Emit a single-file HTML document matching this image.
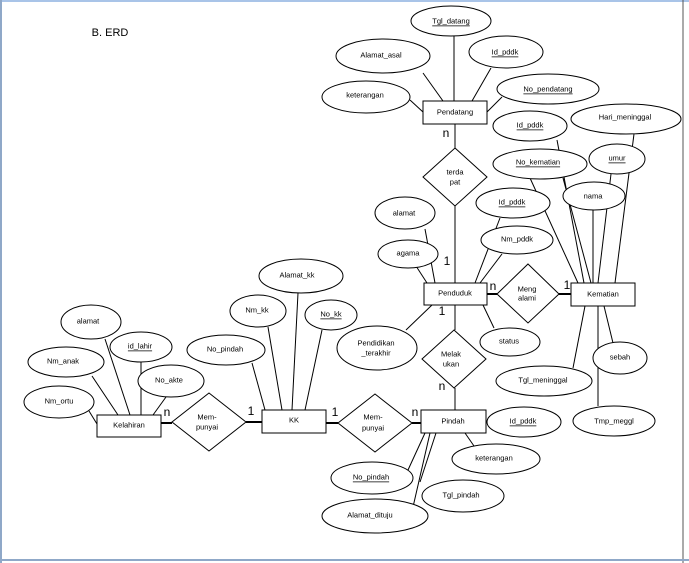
<!DOCTYPE html>
<html><head><meta charset="utf-8"><style>
html,body{margin:0;padding:0;background:#fff}
svg{display:block}
text{font-family:"Liberation Sans",sans-serif;font-size:7.5px;fill:#000;text-anchor:middle;dominant-baseline:central}
.u{text-decoration:underline}
text.c{font-size:12px}
</style></head><body>
<svg width="689" height="563" viewBox="0 0 689 563" xmlns="http://www.w3.org/2000/svg">
<rect width="689" height="563" fill="#fff"/>
<line x1="0" y1="1" x2="689" y2="1" stroke="#a9c4e8" stroke-width="2"/>
<line x1="1" y1="0" x2="1" y2="563" stroke="#8fa8c8" stroke-width="2"/>
<line x1="683" y1="0" x2="683" y2="563" stroke="#555" stroke-width="1"/>
<line x1="0" y1="560" x2="689" y2="560" stroke="#8fa8c8" stroke-width="2"/>
<text x="110" y="33" style="font-size:11px">B.   ERD</text>
<g stroke="#000" stroke-width="1" fill="none">
<line x1="454" y1="36" x2="454" y2="101"/>
<line x1="423" y1="73" x2="443" y2="101"/>
<line x1="491" y1="68" x2="472" y2="101"/>
<line x1="410" y1="100" x2="423" y2="112"/>
<line x1="502" y1="97" x2="487" y2="112"/>
<line x1="455" y1="124" x2="455" y2="148"/>
<line x1="455" y1="206" x2="455" y2="283"/>
<line x1="425" y1="229" x2="435" y2="283"/>
<line x1="416" y1="266" x2="427" y2="283"/>
<line x1="500" y1="218" x2="475" y2="283"/>
<line x1="502" y1="254" x2="480" y2="283"/>
<line x1="487" y1="294" x2="497" y2="294" stroke-width="2"/>
<line x1="559" y1="294" x2="571" y2="294" stroke-width="2"/>
<line x1="432" y1="305" x2="406" y2="330"/>
<line x1="455" y1="305" x2="455" y2="330"/>
<line x1="455" y1="388" x2="455" y2="410"/>
<line x1="483" y1="305" x2="494" y2="328"/>
<line x1="557" y1="140" x2="584" y2="283"/>
<line x1="530" y1="178" x2="578" y2="283"/>
<line x1="563" y1="178" x2="591" y2="283"/>
<line x1="593" y1="210" x2="593" y2="283"/>
<line x1="611" y1="174" x2="598" y2="283"/>
<line x1="634" y1="134" x2="615" y2="283"/>
<line x1="585" y1="306" x2="573" y2="368"/>
<line x1="598" y1="306" x2="598" y2="406"/>
<line x1="604" y1="306" x2="613" y2="343"/>
<line x1="412" y1="423" x2="421" y2="423" stroke-width="2"/>
<line x1="425" y1="433" x2="408" y2="470"/>
<line x1="430" y1="433" x2="413" y2="507"/>
<line x1="436" y1="433" x2="420" y2="482"/>
<line x1="465" y1="433" x2="474" y2="446"/>
<line x1="326" y1="423" x2="338" y2="423" stroke-width="2"/>
<line x1="246" y1="422" x2="262" y2="422" stroke-width="2"/>
<line x1="298" y1="293" x2="292" y2="410"/>
<line x1="268" y1="327" x2="282" y2="410"/>
<line x1="322" y1="330" x2="305" y2="410"/>
<line x1="252" y1="363" x2="265" y2="410"/>
<line x1="161" y1="423" x2="172" y2="423" stroke-width="2"/>
<line x1="105" y1="339" x2="130" y2="415"/>
<line x1="141" y1="362" x2="141" y2="415"/>
<line x1="92" y1="376" x2="118" y2="415"/>
<line x1="166" y1="397" x2="153" y2="415"/>
<line x1="89" y1="411" x2="97" y2="424"/>
</g>
<g stroke="#000" stroke-width="1" fill="#fff">
<ellipse cx="451" cy="21" rx="40" ry="15"/>
<ellipse cx="383" cy="56" rx="47" ry="17"/>
<ellipse cx="506" cy="52" rx="37" ry="16"/>
<ellipse cx="366" cy="97" rx="44" ry="16"/>
<ellipse cx="548" cy="89" rx="51" ry="15"/>
<rect x="423" y="101" width="64" height="23"/>
<polygon points="455,148 487,177 455,206 423,177"/>
<ellipse cx="405" cy="213" rx="30" ry="16"/>
<ellipse cx="408" cy="254" rx="30" ry="14"/>
<ellipse cx="513" cy="203" rx="37" ry="15"/>
<ellipse cx="517" cy="240" rx="36" ry="14"/>
<rect x="424" y="283" width="63" height="22"/>
<polygon points="528,264 559,294 528,323 497,294"/>
<rect x="571" y="283" width="64" height="23"/>
<ellipse cx="530" cy="126" rx="37" ry="15"/>
<ellipse cx="540" cy="164" rx="47" ry="15"/>
<ellipse cx="626" cy="119" rx="55" ry="15"/>
<ellipse cx="617" cy="159" rx="28" ry="15"/>
<ellipse cx="594" cy="196" rx="31" ry="14"/>
<ellipse cx="544" cy="381" rx="48" ry="15"/>
<ellipse cx="620" cy="358" rx="27" ry="16"/>
<ellipse cx="614" cy="421" rx="41" ry="15"/>
<ellipse cx="377" cy="348" rx="40" ry="22"/>
<ellipse cx="510" cy="342" rx="30" ry="14"/>
<polygon points="454,330 486,359 454,388 422,359"/>
<rect x="421" y="410" width="65" height="23"/>
<ellipse cx="524" cy="422" rx="37" ry="15"/>
<ellipse cx="496" cy="459" rx="44" ry="15"/>
<ellipse cx="463" cy="496" rx="41" ry="16"/>
<ellipse cx="372" cy="478" rx="41" ry="16"/>
<ellipse cx="375" cy="516" rx="53" ry="17"/>
<polygon points="375,394 412,423 375,452 338,423"/>
<rect x="262" y="410" width="64" height="23"/>
<polygon points="209,393 246,422 209,451 172,422"/>
<rect x="97" y="415" width="64" height="22"/>
<ellipse cx="301" cy="276" rx="42" ry="17"/>
<ellipse cx="258" cy="311" rx="28" ry="16"/>
<ellipse cx="331" cy="315" rx="26" ry="15"/>
<ellipse cx="226" cy="350" rx="39" ry="15"/>
<ellipse cx="91" cy="322" rx="30" ry="17"/>
<ellipse cx="141" cy="347" rx="31" ry="15"/>
<ellipse cx="66" cy="362" rx="38" ry="15"/>
<ellipse cx="171" cy="381" rx="33" ry="16"/>
<ellipse cx="59" cy="402" rx="35" ry="16"/>
</g>
<text x="451" y="21" class="u">Tgl_datang</text>
<text x="381" y="55">Alamat_asal</text>
<text x="505" y="52" class="u">Id_pddk</text>
<text x="365" y="95">keterangan</text>
<text x="548" y="89" class="u">No_pendatang</text>
<text x="455" y="112">Pendatang</text>
<text x="455" y="172">terda</text>
<text x="455" y="182">pat</text>
<text x="404" y="213">alamat</text>
<text x="408" y="253">agama</text>
<text x="512" y="202" class="u">Id_pddk</text>
<text x="517" y="239">Nm_pddk</text>
<text x="455" y="293">Penduduk</text>
<text x="527" y="289">Meng</text>
<text x="527" y="298">alami</text>
<text x="603" y="294">Kematian</text>
<text x="530" y="125" class="u">Id_pddk</text>
<text x="538" y="162" class="u">No_kematian</text>
<text x="625" y="117">Hari_meninggal</text>
<text x="617" y="158" class="u">umur</text>
<text x="593" y="196">nama</text>
<text x="543" y="380">Tgl_meninggal</text>
<text x="620" y="357">sebah</text>
<text x="614" y="421">Tmp_meggl</text>
<text x="376" y="343">Pendidikan</text>
<text x="376" y="353">_terakhir</text>
<text x="509" y="341">status</text>
<text x="451" y="354">Melak</text>
<text x="451" y="364">ukan</text>
<text x="453" y="421">Pindah</text>
<text x="523" y="421" class="u">Id_pddk</text>
<text x="494" y="458">keterangan</text>
<text x="461" y="495">Tgl_pindah</text>
<text x="371" y="477" class="u">No_pindah</text>
<text x="370" y="515">Alamat_dituju</text>
<text x="373" y="417">Mem-</text>
<text x="373" y="428">punyai</text>
<text x="294" y="420">KK</text>
<text x="207" y="417">Mem-</text>
<text x="207" y="427">punyai</text>
<text x="129" y="425">Kelahiran</text>
<text x="297" y="275">Alamat_kk</text>
<text x="257" y="310">Nm_kk</text>
<text x="331" y="314" class="u">No_kk</text>
<text x="225" y="349">No_pindah</text>
<text x="88" y="321">alamat</text>
<text x="140" y="346" class="u">id_lahir</text>
<text x="63" y="361">Nm_anak</text>
<text x="169" y="380">No_akte</text>
<text x="59" y="401">Nm_ortu</text>
<text class="c" x="446" y="133">n</text>
<text class="c" x="447" y="261">1</text>
<text class="c" x="442" y="311">1</text>
<text class="c" x="493" y="286">n</text>
<text class="c" x="567" y="285">1</text>
<text class="c" x="442" y="386">n</text>
<text class="c" x="335" y="412">1</text>
<text class="c" x="415" y="412">n</text>
<text class="c" x="251" y="411">1</text>
<text class="c" x="167" y="412">n</text>
</svg>
</body></html>
